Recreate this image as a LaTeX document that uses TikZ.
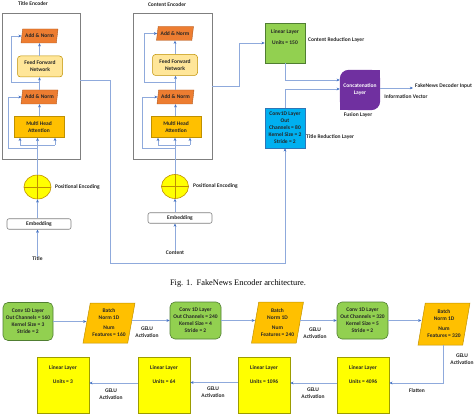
\documentclass[tikz,border=0pt]{standalone}
\usepackage{fontspec}
\setmainfont{Carlito}
\newfontfamily\capfont{Liberation Serif}
\usetikzlibrary{arrows.meta,shapes.geometric,calc,backgrounds}
\definecolor{lineblue}{HTML}{8FAADC}
\definecolor{tipblue}{HTML}{4472C4}
\definecolor{grn}{HTML}{92D050}
\definecolor{grnb}{HTML}{507E32}
\definecolor{cyanb}{HTML}{00B0F0}
\definecolor{cyanbd}{HTML}{2E75B6}
\definecolor{purp}{HTML}{7030A0}
\definecolor{yel}{HTML}{FFFF00}
\definecolor{yelb}{HTML}{9C9C00}
\definecolor{gold}{HTML}{FFC000}
\definecolor{goldb}{HTML}{BF9000}
\definecolor{addor}{HTML}{ED7D31}
\definecolor{addorb}{HTML}{AE5A21}
\definecolor{ffy}{HTML}{FFE699}
\definecolor{boxgray}{HTML}{7F7F7F}
\newcommand\lintext[1]{\parbox[c][56pt][t]{52pt}{\centering\rule{0pt}{12pt}Linear Layer\\[7pt]Units = #1}}
\begin{document}
\begin{tikzpicture}[x=1pt,y=-1pt,
  every node/.style={font=\fontsize{5.5}{7}\selectfont\bfseries, inner sep=0pt, text=black!85},
  ln/.style={draw=lineblue, line width=0.6pt},
  conn/.style={ln, -{Stealth[length=3.2pt,width=2.8pt,color=tipblue]}},
  encbox/.style={draw=boxgray, line width=0.8pt, minimum width=78pt, minimum height=146pt},
  addnorm/.style={trapezium, trapezium left angle=70, trapezium right angle=110, trapezium stretches=true,
     minimum width=37pt, minimum height=14pt, fill=addor, draw=addorb, line width=0.4pt},
  ffbox/.style={rounded corners=3pt, fill=ffy, draw=goldb, line width=0.5pt, minimum width=45pt, minimum height=21pt, align=center},
  mhabox/.style={fill=gold, draw=goldb, line width=0.6pt, minimum width=50pt, minimum height=21pt, align=center},
  pebox/.style={ellipse, fill=yel, draw=goldb, line width=0.6pt, minimum width=27pt, minimum height=24pt},
  embbox/.style={rounded corners=2pt, fill=white, draw=boxgray, line width=0.6pt, minimum width=64pt, minimum height=10.5pt},
  convbox/.style={rounded corners=5pt, fill=grn, draw=grnb, line width=0.6pt, minimum width=51pt, minimum height=37pt, align=center},
  bnbox/.style={trapezium, trapezium left angle=77, trapezium right angle=103, trapezium stretches=true,
     minimum width=52pt, minimum height=40pt, fill=gold, draw=goldb, line width=0.5pt, align=center},
  linbox/.style={fill=yel, draw=yelb, line width=0.6pt},
  lbl/.style={align=center}
]
\useasboundingbox (0,0) rectangle (474,414);

% ---------- encoders ----------
\node[encbox] (enc1) at (41,86) {};
\node[encbox, minimum width=79pt] (enc2) at (172.5,86) {};
\node (tenc) at (33,3.5) {Title Encoder};
\node (cenc) at (167,4.5) {Content Encoder};

% title column
\node[addnorm] (an2) at (39.5,36) {Add \& Norm};
\node[ffbox] (ff1) at (40,66.5) {Feed Forward\\Network};
\node[addnorm] (an1) at (39.5,97) {Add \& Norm};
\node[mhabox] (mha1) at (39,127) {Multi Head\\Attention};
\node[pebox] (pe1) at (37.5,187) {};
\draw[goldb, line width=0.5pt] (pe1.north) -- (pe1.south) (pe1.west) -- (pe1.east);
\node[anchor=west] (pel1) at (55,187) {Positional Encoding};
\node[embbox] (emb1) at (39,224) {Embedding};
\node (title) at (37.5,259) {Title};

% content column
\node[addnorm] (an4) at (175,33.5) {Add \& Norm};
\node[ffbox] (ff2) at (175,65) {Feed Forward\\Network};
\node[addnorm] (an3) at (175.5,97) {Add \& Norm};
\node[mhabox] (mha2) at (176,127) {Multi Head\\Attention};
\node[pebox] (pe2) at (175,186.5) {};
\draw[goldb, line width=0.5pt] (pe2.north) -- (pe2.south) (pe2.west) -- (pe2.east);
\node[anchor=west] (pel2) at (193,186.5) {Positional Encoding};
\node[embbox] (emb2) at (180,218) {Embedding};
\node (content) at (175,253) {Content};

% title column connectors
\draw[conn] (title.north) -- (title.north |- emb1.south);
\draw[conn] (pe1.south |- emb1.north) -- (pe1.south);
\draw[conn] (pe1.north) -- (pe1.north |- mha1.south);
\coordinate (tbl) at (20,145);
\coordinate (tbr) at (55,145);
\draw[ln] (tbl) -- (tbr);
\draw[conn] (tbl) -- (tbl |- mha1.south);
\draw[conn] (tbr) -- (tbr |- mha1.south);
\draw[conn] (mha1.north -| an1.south) -- (an1.south);
\draw[conn] (an1.north) -- (an1.north |- ff1.south);
\draw[conn] (ff1.north -| an2.south) -- (an2.south);
\coordinate (tra) at (37.5,148);
\coordinate (tral) at (8,148);
\draw[conn] (tra) -- (tral) |- (an1.west);
\coordinate (trb) at (39.5,82);
\coordinate (trbl) at (11,82);
\draw[conn] (trb) -- (trbl) |- (an2.west);

% content column connectors
\draw[conn] (content.north) -- (content.north |- emb2.south);
\draw[conn] (pe2.south |- emb2.north) -- (pe2.south);
\draw[conn] (pe2.north) -- (pe2.north |- mha2.south);
\coordinate (cbl) at (158,145);
\coordinate (cbr) at (190,145);
\draw[ln] (cbl) -- (cbr);
\draw[conn] (cbl) -- (cbl |- mha2.south);
\draw[conn] (cbr) -- (cbr |- mha2.south);
\draw[conn] (mha2.north -| an3.south) -- (an3.south);
\draw[conn] (an3.north) -- (an3.north |- ff2.south);
\draw[conn] (ff2.north -| an4.south) -- (an4.south);
\coordinate (cra) at (175,148);
\coordinate (cral) at (142,148);
\draw[conn] (cra) -- (cral) |- (an3.west);
\coordinate (crb) at (175,82);
\coordinate (crbl) at (144,82);
\draw[conn] (crb) -- (crbl) |- (an4.west);

% ---------- reduction & fusion ----------
\node[fill=grn, draw=grnb, line width=0.6pt] (red1) at (285,43)
  {\parbox[c][40pt][t]{40pt}{\centering\rule{0pt}{10.5pt}Linear Layer\\[4.5pt]Units = 150}};
\node[anchor=west] (red1l) at (308,40) {Content Reduction Layer};
\node[fill=cyanb, draw=cyanbd, line width=0.6pt, minimum width=40pt, minimum height=40pt, align=center] (red2) at (285,128)
  {Conv1D Layer\\Out\\Channels = 80\\Kernel Size = 2\\Stride = 2};
\node[anchor=west] (red2l) at (306,137) {Title Reduction Layer};

\node[minimum width=40pt, minimum height=40pt, align=center, text=white] (cat) at (360,90) {Concatenation\\Layer};
\begin{scope}[on background layer]
  \fill[purp, rounded corners=9pt] (cat.south west) -- (cat.north west) -- (cat.north east) -- (cat.south east) -- cycle;
  \fill[purp] ($(cat.north east)+(-10,0)$) rectangle ($(cat.north east)+(0,10)$);
  \fill[purp] ($(cat.south west)+(0,-10)$) rectangle ($(cat.south west)+(10,0)$);
\end{scope}
\node (fus) at (358,115) {Fusion Layer};
\node (info) at (406,97) {Information Vector};
\coordinate (fk) at (413,88);
\node[anchor=west] (fkl) at (415,86) {FakeNews Decoder Input};

\coordinate (tout) at (80,80);
\coordinate (tc1) at (110,80);
\coordinate (tc2) at (110,263);
\draw[conn] (tout) -- (tc1) -- (tc2) -| (red2.south);
\coordinate (cout) at (212,86);
\coordinate (cc1) at (239,86);
\draw[conn] (cout) -- (cc1) |- (red1.west);
\draw[conn] (red1.south) |- ($(cat.west)+(0,-10)$);
\draw[conn] (red2.north) |- ($(cat.west)+(0,-1)$);
\draw[conn] ($(cat.east)+(0,-2)$) -- (fk);

% caption
\node[font=\capfont\fontsize{8.4}{10}\selectfont, text=black] (cap) at (238,283.5) {Fig. 1.\ \ FakeNews Encoder architecture.};

% ---------- bottom network ----------
\node[convbox, minimum width=50pt, minimum height=38pt] (cv1) at (28,321.5) {Conv 1D Layer\\Out Channels = 160\\Kernel Size = 3\\Stride = 2};
\node[bnbox] (bn1) at (109,323) {Batch\\Norm 1D\\[3pt]Num\\Features = 160};
\node[convbox] (cv2) at (195.5,320.5) {Conv 1D Layer\\Out Channels = 240\\Kernel Size = 4\\Stride = 2};
\node[bnbox, minimum height=41pt] (bn2) at (277.5,322.5) {Batch\\Norm 1D\\[3pt]Num\\Features = 240};
\node[convbox] (cv3) at (362.5,320.5) {Conv 1D Layer\\Out Channels = 320\\Kernel Size = 5\\Stride = 2};
\node[bnbox, minimum height=42pt] (bn3) at (444,324) {Batch\\Norm 1D\\[3pt]Num\\Features = 320};

\draw[conn] (cv1.east) -- (cv1.east -| bn1.west);
\draw[conn] (bn1.east |- cv2.west) -- (cv2.west);
\draw[conn] (cv2.east) -- (cv2.east -| bn2.west);
\draw[conn] (bn2.east |- cv3.west) -- (cv3.west);
\draw[conn] (cv3.east) -- (cv3.east -| bn3.west);
\node[lbl] (g1) at (147,332.5) {GELU\\Activation};
\node[lbl] (g2) at (315,333.5) {GELU\\Activation};
\node[lbl] (g3) at (462,359) {GELU\\Activation};

\node[linbox] (l4096) at (363,385) {\lintext{4096}};
\node[linbox] (l1096) at (264,385.5) {\lintext{1096}};
\node[linbox] (l64) at (164,385.5) {\lintext{64}};
\node[linbox] (l3) at (63,385.5) {\lintext{3}};

\draw[conn] ($(bn3.south)+(-1,0)$) |- ($(l4096.east)+(0,-2)$);
\draw[conn] ($(l4096.west)+(0,-2)$) -- ($(l1096.east)+(0,-2.5)$);
\draw[conn] ($(l1096.west)+(0,-3)$) -- ($(l64.east)+(0,-3)$);
\draw[conn] ($(l64.west)+(0,-2.5)$) -- ($(l3.east)+(0,-2.5)$);
\node (flat) at (417,391) {Flatten};
\node[lbl] (g4) at (313,393.5) {GELU\\Activation};
\node[lbl] (g5) at (213,392) {GELU\\Activation};
\node[lbl] (g6) at (111,394.5) {GELU\\Activation};
\end{tikzpicture}
\end{document}
